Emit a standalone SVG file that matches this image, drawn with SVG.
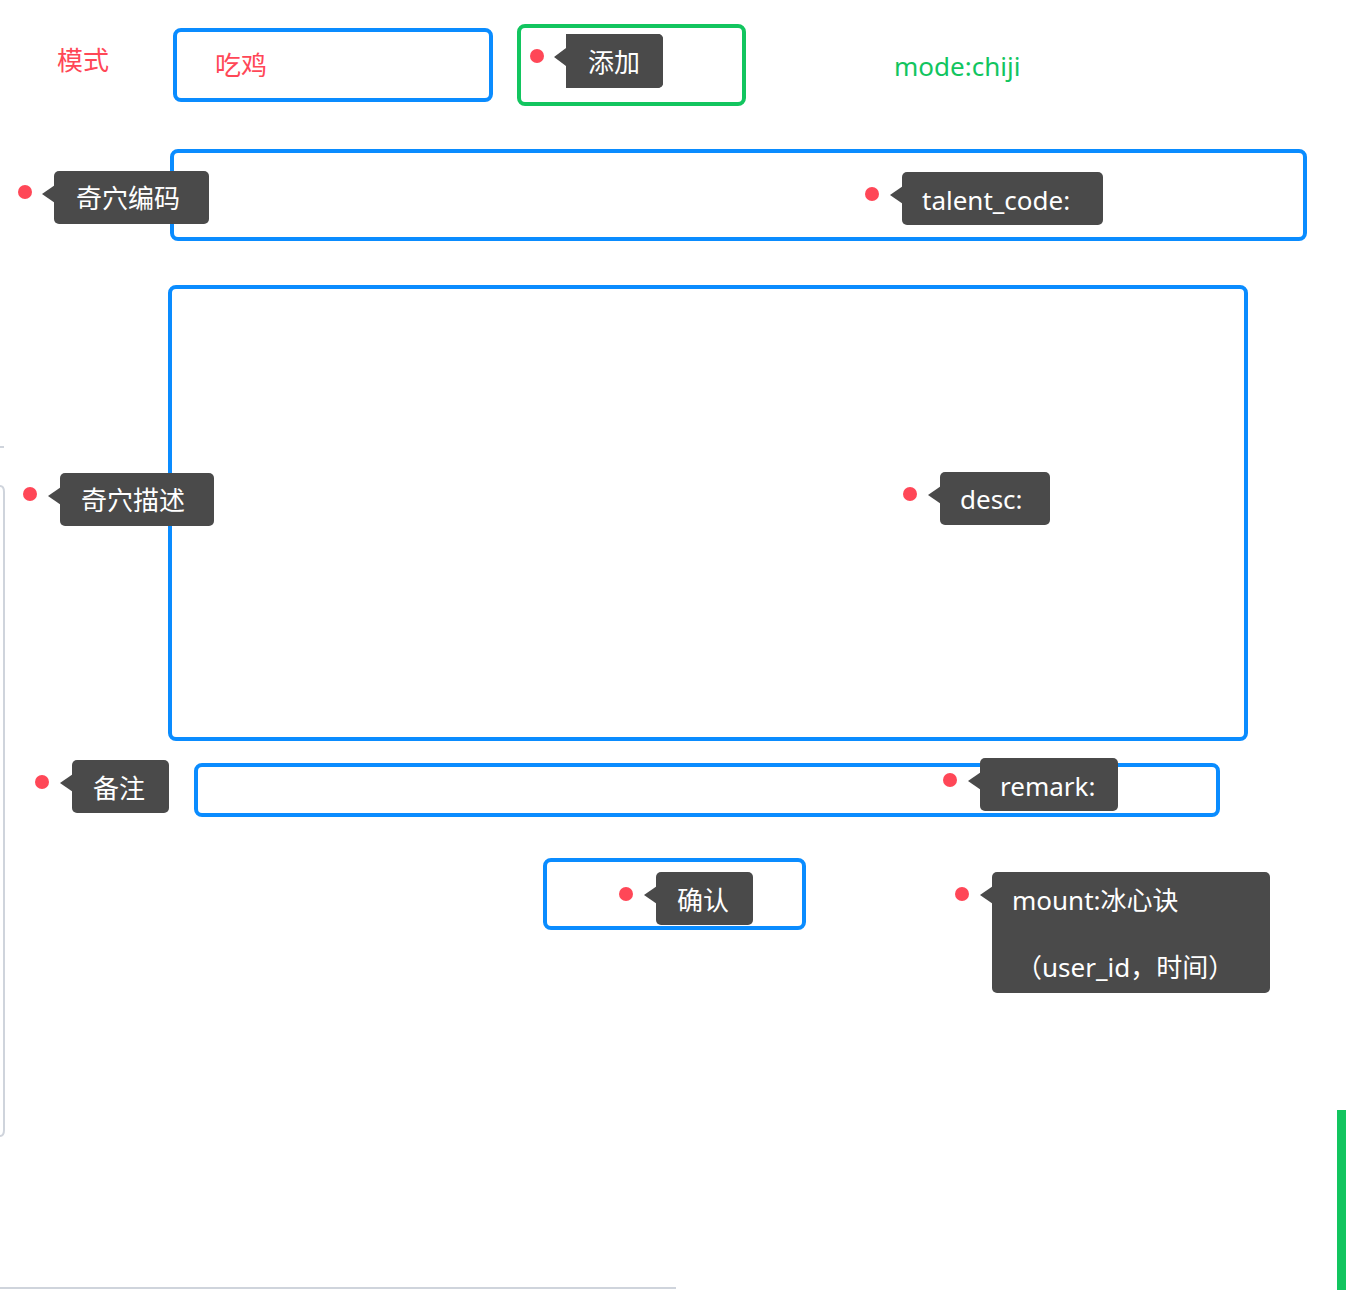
<svg xmlns="http://www.w3.org/2000/svg" width="1346" height="1290" viewBox="0 0 1346 1290">
<style>
.box{fill:none;stroke:#0a8cff;stroke-width:4}
.tip{fill:#4a4a4a}
.dot{fill:#ff4757}
.t{font-family:"Noto Sans","Noto Sans CJK SC",sans-serif;font-size:26px;fill:#fff}
</style>
<rect width="1346" height="1290" fill="#fff"/>
<g id="edges" fill="none" stroke="#cfd4dc" stroke-width="2">
<path d="M0 447H4"/>
<path d="M0 486Q4 486 4 492V1130Q4 1136 0 1136"/>
<path d="M0 1288H676"/>
</g>
<rect x="1337" y="1110" width="9" height="180" fill="#12c55f"/>
<g id="n-mode"><text x="57" y="70" font-family="Noto Sans,Noto Sans CJK SC,sans-serif" font-size="26" fill="#ff4757">模式</text></g>
<g id="n-chiji"><rect class="box" x="175" y="30" width="316" height="70" rx="6"/><text x="215" y="75" font-family="Noto Sans,Noto Sans CJK SC,sans-serif" font-size="26" fill="#ff4757">吃鸡</text></g>
<g id="n-add"><rect x="519" y="26" width="225" height="78" rx="6" fill="none" stroke="#12c55f" stroke-width="4"/>
<circle class="dot" cx="537" cy="56" r="7"/><path class="tip" d="M566 34h92a5 5 0 0 1 5 5v44a5 5 0 0 1-5 5h-92zM566 48l-12 9 12 9z"/><rect class="tip" x="566" y="34" width="97" height="54" rx="5"/><text class="t" x="588" y="72">添加</text></g>
<g id="n-modechiji"><text x="894" y="76" font-family="Noto Sans,sans-serif" font-size="26" fill="#12c55f">mode:chiji</text></g>
<g id="n-talent"><rect class="box" x="172" y="151" width="1133" height="88" rx="6"/>
<circle class="dot" cx="25" cy="192" r="7"/><rect class="tip" x="54" y="171" width="155" height="53" rx="5"/><path class="tip" d="M55 185l-13 9 13 9z"/><text class="t" x="76" y="208">奇穴编码</text>
<circle class="dot" cx="872" cy="194" r="7"/><rect class="tip" x="902" y="172" width="201" height="53" rx="5"/><path class="tip" d="M903 186l-13 9 13 9z"/><text class="t" x="922" y="210">talent_code:</text></g>
<g id="n-desc"><rect class="box" x="170" y="287" width="1076" height="452" rx="6"/>
<circle class="dot" cx="30" cy="494" r="7"/><rect class="tip" x="60" y="473" width="154" height="53" rx="5"/><path class="tip" d="M61 487l-13 9 13 9z"/><text class="t" x="81" y="510">奇穴描述</text>
<circle class="dot" cx="910" cy="494" r="7"/><rect class="tip" x="940" y="472" width="110" height="53" rx="5"/><path class="tip" d="M941 486l-13 9 13 9z"/><text class="t" x="960" y="509">desc:</text></g>
<g id="n-remark"><rect class="box" x="196" y="765" width="1022" height="50" rx="6"/>
<circle class="dot" cx="42" cy="782" r="7"/><rect class="tip" x="72" y="760" width="97" height="53" rx="5"/><path class="tip" d="M73 774l-13 9 13 9z"/><text class="t" x="93" y="798">备注</text>
<circle class="dot" cx="950" cy="780" r="7"/><rect class="tip" x="980" y="758" width="138" height="53" rx="5"/><path class="tip" d="M981 772l-13 9 13 9z"/><text class="t" x="1000" y="796">remark:</text></g>
<g id="n-confirm"><rect class="box" x="545" y="860" width="259" height="68" rx="6"/>
<circle class="dot" cx="626" cy="894" r="7"/><rect class="tip" x="656" y="872" width="97" height="53" rx="5"/><path class="tip" d="M657 886l-13 9 13 9z"/><text class="t" x="677" y="910">确认</text></g>
<g id="n-mount">
<circle class="dot" cx="962" cy="894" r="7"/><rect class="tip" x="992" y="872" width="278" height="121" rx="5"/><path class="tip" d="M993 886l-13 9 13 9z"/><text class="t" x="1012" y="910">mount:冰心诀</text><text class="t" x="1016" y="977">（user_id，时间）</text></g>
</svg>
